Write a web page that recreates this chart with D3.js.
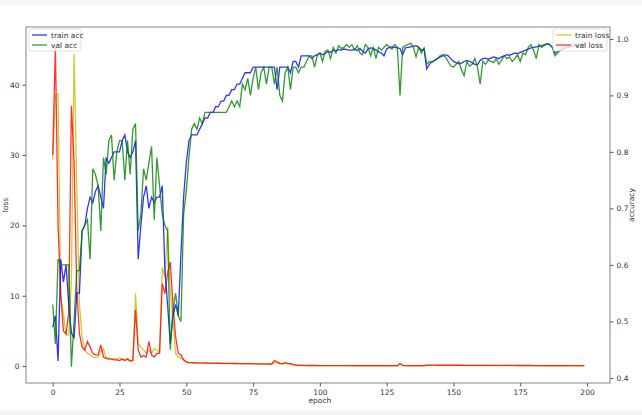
<!DOCTYPE html>
<html><head><meta charset="utf-8">
<script src="https://cdn.jsdelivr.net/npm/d3@7"></script>
<style>
body{margin:0;background:#f6f6f6;font-family:"DejaVu Sans",sans-serif;}
svg{display:block;}
</style></head>
<body><div id="chart"></div>
<script>
const trainAcc = [
.49,.51,.43,.61,.57,.60,.53,.48,.47,.55, .55,.66,.67,.70,.72,.71,.73,.74,.72,.70,
.79,.78,.79,.80,.80,.80,.82,.83,.80,.79, .80,.82,.61,.67,.72,.74,.70,.72,.71,.72,
.72,.74,.59,.53,.46,.51,.53,.51,.62,.72, .78,.82,.83,.83,.83,.84,.85,.86,.86,.87,
.87,.88,.88,.89,.89,.90,.90,.91,.91,.92, .92,.93,.94,.94,.94,.95,.95,.95,.95,.95,
.95,.95,.95,.95,.91,.95,.95,.95,.95,.94, .96,.96,.95,.97,.97,.97,.97,.965,.97,.972,
.975,.972,.974,.978,.976,.98,.979,.981,.98,.982, .981,.98,.98,.982,.979,.983,.978,.975,.982,.984,
.983,.98,.977,.975,.97,.982,.985,.986,.985,.984, .983,.972,.984,.985,.986,.987,.988,.985,.98,.982,
.947,.955,.96,.962,.965,.968,.97,.972,.97,.965, .96,.958,.956,.957,.96,.962,.96,.958,.955,.954,
.962,.965,.966,.964,.966,.968,.967,.965,.968,.97, .972,.971,.973,.975,.974,.976,.978,.98,.982,.984,
.985,.986,.987,.988,.99,.991,.99,.985,.975,.978, .98,.982,.984,.985,.986,.987,.988,.989,.99,.99];
const valAcc = [
.53,.46,.61,.60,.60,.60,.60,.42,.50,.59, .59,.66,.67,.68,.61,.77,.76,.74,.66,.79,
.76,.82,.83,.75,.80,.82,.82,.75,.82,.76, .84,.85,.66,.69,.77,.75,.78,.81,.68,.79,
.74,.69,.67,.66,.45,.52,.55,.51,.50,.69, .73,.79,.84,.85,.84,.86,.85,.87,.87,.87,
.87,.87,.87,.87,.87,.87,.88,.89,.88,.89, .88,.92,.91,.93,.90,.93,.95,.91,.94,.95,
.92,.95,.95,.92,.95,.90,.89,.94,.95,.91, .95,.95,.94,.95,.95,.96,.97,.97,.95,.97,
.975,.96,.978,.98,.965,.985,.975,.988,.983,.985, .99,.985,.99,.98,.988,.975,.972,.99,.985,.97,
.985,.965,.985,.98,.985,.99,.985,.982,.99,.985, .90,.985,.988,.99,.992,.985,.968,.985,.975,.984,
.955,.96,.958,.962,.965,.97,.972,.968,.96,.952, .95,.955,.96,.945,.935,.96,.952,.955,.965,.95,
.92,.96,.955,.962,.96,.958,.965,.955,.962,.97, .965,.968,.96,.965,.972,.96,.975,.972,.985,.99,
.98,.965,.99,.985,.988,.992,.99,.985,.97,.975, .98,.985,.988,.985,.988,.99,.987,.985,.988,.99];
const trainLoss = [
29.3,38.5,38.7,9.8,7.5,4.4,4.4,12.2,44.4,25.5, 8.9,4.2,2.3,1.8,1.6,1.3,1.2,1.3,2.0,2.5,
1.1,1.2,1.0,1.1,1.0,1.2,0.9,1.0,1.1,0.8, 0.9,10.3,3.2,2.7,2.3,1.8,2.3,1.8,2.5,2.3,
2.0,14.0,12.7,19.8,10.8,6.5,1.8,1.3,1.1,0.9, .55,.48,.46,.45,.44,.43,.42,.42,.41,.40,
.40,.39,.38,.38,.37,.36,.36,.35,.35,.34, .34,.33,.33,.32,.32,.31,.31,.30,.30,.29,
.29,.28,.28,.50,.45,.35,.30,.38,.32,.28, .15,.12,.10,.09,.08,.08,.08,.07,.07,.07,
.07,.07,.06,.06,.06,.06,.06,.06,.06,.06, .06,.06,.05,.05,.05,.05,.05,.05,.05,.05,
.05,.05,.05,.05,.05,.05,.05,.05,.05,.05, .25,.08,.06,.05,.05,.05,.05,.05,.05,.05,
.10,.12,.11,.11,.10,.10,.10,.10,.10,.10, .10,.10,.10,.10,.09,.09,.09,.09,.09,.09,
.09,.09,.09,.09,.09,.08,.08,.08,.08,.08, .08,.08,.08,.08,.07,.07,.07,.07,.07,.07,
.06,.06,.06,.06,.05,.05,.05,.05,.05,.05, .05,.05,.05,.05,.05,.05,.04,.04,.04,.04];
const valLoss = [
30,45.4,20,10.3,5,4.6,7.5,37,29,11, 4.6,2.7,2.3,3.5,2.7,1.8,1.6,1.6,3.0,1.3,
1.1,1.0,1.0,0.9,0.9,0.8,1.0,0.8,1.0,0.7, 0.8,8.0,2.3,1.3,1.5,1.3,3.5,1.6,1.3,1.8,
1.8,11.7,10.3,13.2,14.8,8.9,4.2,1.8,1.6,0.9, .60,.50,.50,.48,.47,.46,.45,.45,.44,.43,
.42,.42,.41,.40,.40,.39,.38,.38,.37,.37, .36,.36,.35,.35,.34,.34,.33,.33,.32,.32,
.31,.30,.30,.80,.60,.40,.35,.50,.40,.35, .20,.15,.12,.10,.10,.10,.09,.09,.09,.08,
.08,.08,.08,.07,.07,.07,.07,.07,.07,.07, .07,.07,.07,.06,.06,.06,.06,.06,.06,.06,
.06,.06,.06,.06,.06,.06,.06,.06,.06,.06, .40,.10,.07,.06,.06,.06,.06,.06,.06,.06,
.15,.14,.13,.13,.12,.12,.12,.12,.12,.12, .12,.12,.12,.12,.11,.11,.11,.11,.11,.11,
.11,.11,.11,.11,.11,.10,.10,.10,.10,.10, .10,.10,.10,.10,.09,.09,.09,.09,.09,.09,
.08,.08,.08,.08,.07,.07,.07,.07,.07,.07, .07,.07,.07,.07,.07,.07,.06,.06,.06,.06];
const epochTicks = [0,25,50,75,100,125,150,175,200];
const lossTicks = [0,10,20,30,40];
const accTicks = [0.4,0.5,0.6,0.7,0.8,0.9,1.0];

const W = 642, H = 415;
const m = {left: 26, right: 32, top: 27, bottom: 32};
const svg = d3.select('#chart').append('svg').attr('width', W).attr('height', H);
svg.append('rect').attr('x', 0).attr('y', 5).attr('width', W).attr('height', 405).attr('fill', '#fff');

const x = d3.scaleLinear().domain([-10, 208.6]).range([m.left, W - m.right]);
const yL = d3.scaleLinear().domain([-2.4, 48.2]).range([H - m.bottom, m.top]);
const yR = d3.scaleLinear().domain([0.391, 1.021]).range([H - m.bottom, m.top]);

const styleAxis = (g) => {
    g.selectAll('text').attr('font-size', 7.5).attr('fill', '#333').attr('font-family', 'DejaVu Sans');
    g.selectAll('line').attr('stroke', '#555');
    g.select('.domain').remove();
};

svg.append('g').attr('transform', `translate(0,${H - m.bottom})`)
    .call(d3.axisBottom(x).tickValues(epochTicks).tickSize(3.5).tickPadding(3)).call(styleAxis);
svg.append('g').attr('transform', `translate(${m.left},0)`)
    .call(d3.axisLeft(yL).tickValues(lossTicks).tickSize(3.5).tickPadding(3)).call(styleAxis);
svg.append('g').attr('transform', `translate(${W - m.right},0)`)
    .call(d3.axisRight(yR).tickValues(accTicks).tickFormat(d3.format('.1f')).tickSize(3.5).tickPadding(3)).call(styleAxis);

const seriesList = [
    {data: trainLoss, y: yL, color: '#bfbf00'},
    {data: valLoss, y: yL, color: '#ff0000'},
    {data: trainAcc, y: yR, color: '#0000ff'},
    {data: valAcc, y: yR, color: '#008000'}
];
seriesList.forEach((s) => {
    const line = d3.line().x((d, i) => x(i)).y((d) => s.y(d));
    svg.append('path').datum(s.data).attr('d', line)
        .attr('fill', 'none').attr('stroke', s.color).attr('stroke-width', 1.3).attr('stroke-opacity', 0.8);
});

svg.append('rect').attr('x', m.left).attr('y', m.top)
    .attr('width', W - m.left - m.right).attr('height', H - m.top - m.bottom)
    .attr('fill', 'none').attr('stroke', '#666').attr('stroke-width', 0.8);

const label = (t, px, py, rot) => svg.append('text').text(t)
    .attr('transform', `translate(${px},${py}) rotate(${rot})`)
    .attr('text-anchor', 'middle').attr('font-size', 7.5).attr('fill', '#333');
label('epoch', x(100), 403, 0);
label('loss', 8, (m.top + H - m.bottom) / 2, -90);
label('accuracy', 634, (m.top + H - m.bottom) / 2, -90);

const legend = (items, lx, ly, w) => {
    const g = svg.append('g').attr('transform', `translate(${lx},${ly})`);
    g.append('rect').attr('width', w).attr('height', 22).attr('rx', 2)
        .attr('fill', '#fff').attr('fill-opacity', 0.8).attr('stroke', '#ccc').attr('stroke-width', 0.6);
    items.forEach((it, i) => {
        g.append('line').attr('x1', 3).attr('x2', 18).attr('y1', 6 + i * 10).attr('y2', 6 + i * 10)
            .attr('stroke', it[1]).attr('stroke-width', 1.3).attr('stroke-opacity', 0.8);
        g.append('text').text(it[0]).attr('x', 22).attr('y', 8.5 + i * 10)
            .attr('font-size', 7.5).attr('fill', '#333');
    });
};
legend([['train acc', '#0000ff'], ['val acc', '#008000']], 29, 29, 52);
legend([['train loss', '#bfbf00'], ['val loss', '#ff0000']], 553, 29, 54);
</script></body></html>
